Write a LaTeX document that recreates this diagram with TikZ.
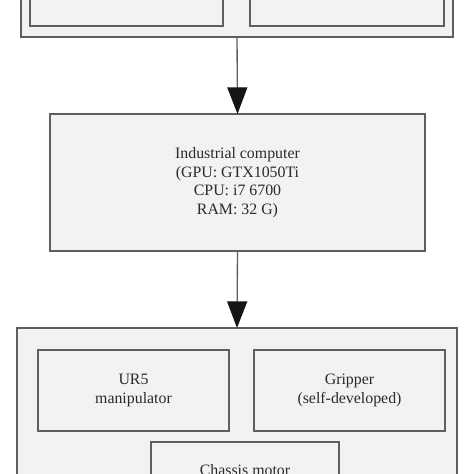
\documentclass[tikz,border=0pt]{standalone}
\usepackage{fontspec}
\setmainfont{Liberation Serif}
\usetikzlibrary{arrows.meta}
\definecolor{boxfill}{HTML}{F2F2F2}
\definecolor{boxline}{HTML}{5E5E5E}
\definecolor{textcol}{HTML}{2A2A2A}
\definecolor{tipcol}{HTML}{151515}
\begin{document}
\begin{tikzpicture}[x=0.75pt,y=-0.75pt,
	box/.style={draw=boxline, fill=boxfill, line width=1pt, inner sep=0pt, outer sep=0pt,
		align=center, text=textcol, font=\fontsize{11.9}{13.9}\selectfont},
	flow/.style={draw=boxline, line width=1pt, -{Triangle[width=15pt,length=20pt,color=tipcol]}}]
		\useasboundingbox (0,0) rectangle (474,474);
		\clip (0,0) rectangle (474,474);
		\fill[white] (0,0) rectangle (474,474);

		\node[box, minimum width=324pt, minimum height=80.25pt] (sensors) at (237,-16.5) {};
		\node[box, minimum width=144.75pt, minimum height=64.5pt] (sensorL) at (126.5,-17) {};
		\node[box, minimum width=145.5pt, minimum height=64.5pt] (sensorR) at (347,-17) {};

		\node[box, minimum width=281.25pt, minimum height=102.75pt] (computer) at (237.5,182.5)
			{Industrial computer\\(GPU: GTX1050Ti\\CPU: i7 6700\\RAM: 32 G)};

		\node[box, minimum width=330pt, minimum height=144pt] (robot) at (237,424) {};
		\node[box, minimum width=143.25pt, minimum height=60.75pt] (ur5) at (133.5,390.5)
			{UR5\\manipulator};
		\node[box, minimum width=143.25pt, minimum height=60.75pt] (gripper) at (349.5,390.5)
			{Gripper\\(self-developed)};
		\node[box, minimum width=141pt, minimum height=42pt] (chassis) at (245,470)
			{Chassis motor};

		\draw[flow] (sensors.south) -- (computer.north);
		\draw[flow] (computer.south) -- (robot.north);
	\end{tikzpicture}
\end{document}
